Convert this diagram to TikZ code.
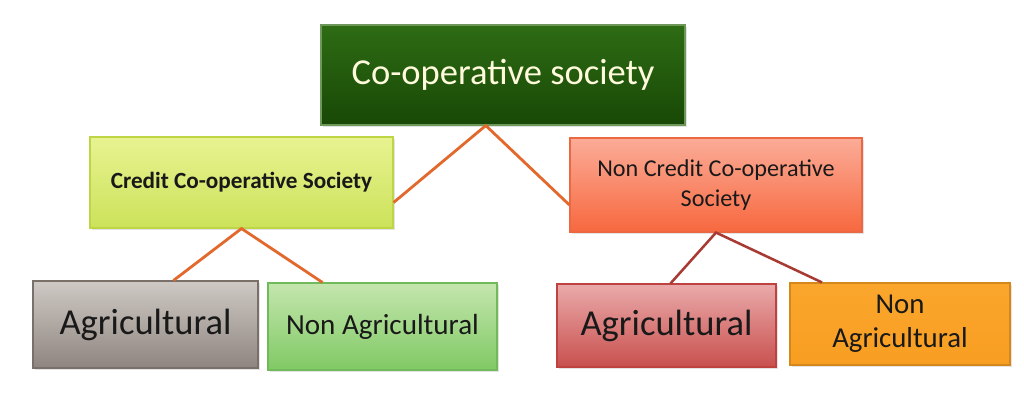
\documentclass[tikz,border=0pt]{standalone}
\usepackage{fontspec}
\setmainfont{Carlito}
\usepackage{xcolor}
\usetikzlibrary{positioning,calc,shadows}

\definecolor{rootTop}{RGB}{46,108,20}
\definecolor{rootBot}{RGB}{24,72,6}
\definecolor{linkOrange}{RGB}{226,104,44}
\definecolor{linkRed}{RGB}{168,58,52}

\begin{document}
\begin{tikzpicture}[
    box/.style={draw, line width=0.8pt, minimum height=#1, align=center,
        text=black!90, drop shadow={opacity=0.22, shadow xshift=1.2pt, shadow yshift=-1.6pt}},
    box/.default=2.2cm,
    orangelink/.style={draw=linkOrange, line width=2pt},
    redlink/.style={draw=linkRed, line width=1.8pt}
]
    \useasboundingbox (0,0) rectangle (25.6,10.15);
    % Root
    \node[box=2.5cm, minimum width=9.1cm, draw=rootTop!70!white, top color=rootTop, bottom color=rootBot,
        text={rgb,255:red,255;green,250;blue,220}, font=\fontsize{26}{30}\selectfont]
        (root) at (12.575,8.275) {Co-operative society};
    % Credit
    \node[box=2.275cm, minimum width=7.575cm, draw={rgb,255:red,190;green,214;blue,70},
        top color={rgb,255:red,232;green,243;blue,145}, bottom color={rgb,255:red,204;green,226;blue,90},
        font=\fontsize{16.5}{20}\bfseries]
        (credit) at (6.0375,5.5875) {Credit Co-operative Society};
    % Non credit
    \node[box=2.35cm, minimum width=7.3cm, draw={rgb,255:red,236;green,104;blue,66},
        top color={rgb,255:red,251;green,172;blue,152}, bottom color={rgb,255:red,247;green,104;blue,62},
        font=\fontsize{17.2}{21}\selectfont]
        (noncredit) at (17.9,5.525) {Non Credit Co-operative\\Society};
    % Credit children
    \node[box=2.175cm, minimum width=5.625cm, draw={rgb,255:red,122;green,112;blue,106},
        top color={rgb,255:red,206;green,201;blue,196}, bottom color={rgb,255:red,143;green,133;blue,128},
        font=\fontsize{26}{30}\selectfont]
        (agriA) at (3.6375,2.0375) {Agricultural};
    \node[box=2.175cm, minimum width=5.725cm, draw={rgb,255:red,112;green,186;blue,92},
        top color={rgb,255:red,196;green,230;blue,174}, bottom color={rgb,255:red,128;green,201;blue,100},
        font=\fontsize{20.7}{24}\selectfont]
        (nonagriA) at (9.5625,1.9875) {Non Agricultural};
    % Non credit children
    \node[box=2.075cm, minimum width=5.475cm, draw={rgb,255:red,190;green,66;blue,64},
        top color={rgb,255:red,234;green,170;blue,170}, bottom color={rgb,255:red,200;green,80;blue,78},
        font=\fontsize{26}{30}\selectfont]
        (agriB) at (16.6625,2.0125) {Agricultural};
    \node[box=2.05cm, minimum width=5.5cm, draw={rgb,255:red,212;green,136;blue,28},
        top color={rgb,255:red,250;green,166;blue,44}, bottom color={rgb,255:red,248;green,158;blue,34},
        font=\fontsize{20.5}{24}\selectfont]
        (nonagriB) at (22.5,2.05) {Non\\Agricultural};
    % Links
    \draw[orangelink] ([yshift=-0.5cm]credit.east) -- ([xshift=-0.43cm]root.south) -- ([yshift=-0.5cm]noncredit.west);
    \draw[orangelink] ([xshift=0.7cm]agriA.north) -- (credit.south) -- ([xshift=-1.5cm]nonagriA.north);
    \draw[redlink] ([xshift=0.1cm]agriB.north) -- (noncredit.south) -- ([xshift=-1.95cm]nonagriB.north);
\end{tikzpicture}
\end{document}
